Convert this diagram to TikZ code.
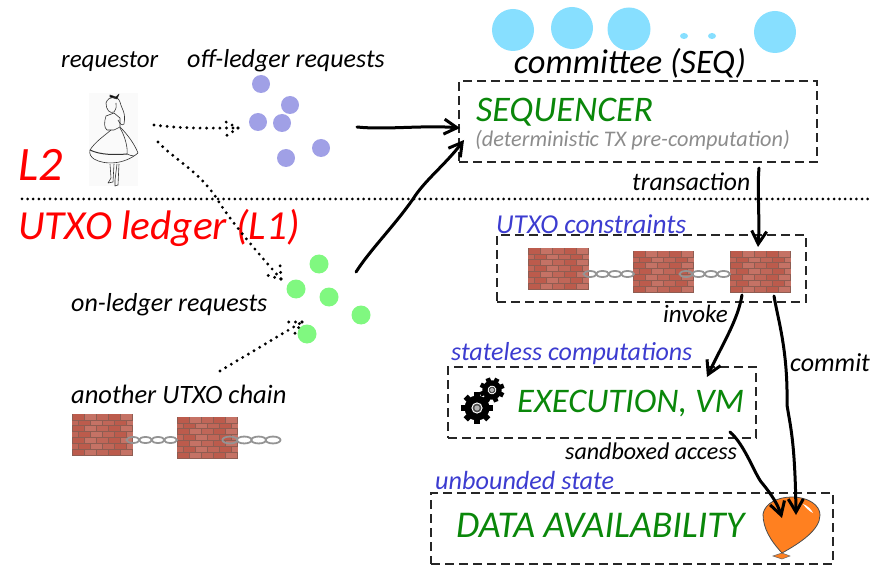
\documentclass[tikz,border=0pt]{standalone}
\usepackage{fontspec}
\setmainfont{Carlito}
\usepackage{tikz}
\usetikzlibrary{arrows.meta,positioning,calc,shapes.geometric}
\usepackage{xcolor}
\definecolor{seqblue}{HTML}{87DFFF}
\definecolor{offdot}{HTML}{A0A0E6}
\definecolor{ondot}{HTML}{80F880}
\definecolor{labgreen}{HTML}{0A870A}
\definecolor{labblue}{HTML}{3C3CD0}
\definecolor{brickred}{HTML}{BC5B4C}
\definecolor{mortar}{HTML}{8F5D52}
\definecolor{balloon}{HTML}{FF8020}
\tikzset{
  txt/.style={inner sep=0pt, font=\itshape\fontsize{26}{26}\selectfont},
  head/.style={inner sep=0pt, text=labgreen, font=\itshape\fontsize{#1}{#1}\selectfont},
  sub/.style={inner sep=0pt, text=labblue, font=\itshape\fontsize{#1}{#1}\selectfont},
  big/.style={inner sep=0pt, text=red, font=\itshape\fontsize{#1}{#1}\selectfont},
  dbox/.style={draw=black!85, line width=2.2pt, dash pattern=on 9pt off 5pt, minimum width=#1},
  dot/.style={circle, inner sep=0pt, minimum size=#1},
  brick/.style={inner sep=0pt, minimum width=61pt, minimum height=41pt, fill=brickred,
    path picture={
      \foreach \r in {0,...,6} {
        \foreach \c in {-1,...,5} {
          \fill[white, opacity={0.07*mod(\r*3+\c*2+6,3)}]
            ([xshift={(\c+0.5*mod(\r,2))*12pt},yshift=\r*5.86pt]path picture bounding box.south west)
            rectangle ++(12pt,5.86pt);
          \draw[mortar, line width=0.6pt]
            ([xshift={(\c+0.5*mod(\r,2))*12pt},yshift=\r*5.86pt]path picture bounding box.south west)
            -- ++(0pt,5.86pt);
        }
        \draw[mortar, line width=0.6pt] ([yshift=\r*5.86pt]path picture bounding box.south west)
          -- ++(61pt,0pt);
      }
    }},
  hand/.style={->, line width=3pt, line cap=round, line join=round},
  dots/.style={line width=3.2pt, line cap=round, dash pattern=on 0pt off 6.6pt},
  chain/.pic={
    \foreach \i in {0,...,3}
      \draw[black!42, line width=1.8pt] (\i*12.5+6,0) ellipse [x radius=6.5, y radius=3];
  },
  gear/.pic={
    \foreach \a in {0,45,...,315}
      \fill[black, rotate=\a] (-3,0) rectangle (3,16);
    \fill[black] (0,0) circle [radius=12.5];
    \fill[white] (0,0) circle [radius=5.6];
    \fill[black!70] (0,0) circle [radius=4.4];
    \fill[black!30] (0,0) circle [radius=2.6];
  },
}
\begin{document}
\begin{tikzpicture}[x=1pt, y=-1pt, >={Straight Barb[length=13pt,width=15pt]}]
  \useasboundingbox (0,0) rectangle (880,577);

  % committee
  \foreach \n/\x/\y/\s in {a/513/30/42, b/572/28/42, c/629/29/43, d/775/32/42}
    \node[dot=\s pt, fill=seqblue] (com\n) at (\x,\y) {};
  \node[ellipse, inner sep=0pt, minimum width=8pt, minimum height=6pt, fill=seqblue] (comx) at (684,36) {};
  \node[ellipse, inner sep=0pt, minimum width=8pt, minimum height=6pt, fill=seqblue] (comy) at (712,36) {};
  \node[txt, font=\itshape\fontsize{34.4}{34.4}\selectfont] (comlab) at (630,63) {committee (SEQ)};

  % boxes
  \node[dbox=358pt, minimum height=81pt] (seq) at (638,121.5) {};
  \node[dbox=309pt, minimum height=67pt] (utxo) at (651.5,268.5) {};
  \node[dbox=308pt, minimum height=71pt] (exec) at (602,402.5) {};
  \node[dbox=402pt, minimum height=71pt] (da) at (632,528.5) {};

  \node[head=36, anchor=west] (seqlab) at (476,112) {SEQUENCER};
  \node[txt, text=black!45, anchor=west, font=\itshape\fontsize{22.3}{22.3}\selectfont] (seqsub) at (475,140) {(deterministic TX pre-computation)};
  \node[head=34.5, anchor=west] (execlab) at (517,404) {EXECUTION, VM};
  \node[head=37.8, anchor=west] (dalab) at (456,525) {DATA AVAILABILITY};

  \node[sub=27.3, anchor=west] (utxolab) at (496,224) {UTXO constraints};
  \node[sub=26, anchor=west] (execsub) at (451,354) {stateless computations};
  \node[sub=26.2, anchor=west] (dasub) at (435,480) {unbounded state};

  % side labels
  \node[big=48, anchor=west] (l2) at (18,165) {L2};
  \node[big=41.3, anchor=west] (l1) at (18,228) {UTXO ledger (L1)};
  \node[txt, anchor=west, font=\itshape\fontsize{25}{25}\selectfont] (req) at (61,62) {requestor};
  \node[txt, anchor=west] (offlab) at (187,61) {off-ledger requests};
  \node[txt, anchor=west] (onlab) at (71,305) {on-ledger requests};
  \node[txt, anchor=west, font=\itshape\fontsize{26.5}{26.5}\selectfont] (chainlab) at (71,394) {another UTXO chain};
  \node[txt, anchor=west, font=\itshape\fontsize{25.6}{25.6}\selectfont] (tx) at (632,182) {transaction};
  \node[txt, anchor=west, font=\itshape\fontsize{25}{25}\selectfont] (inv) at (663,314) {invoke};
  \node[txt, anchor=west, font=\itshape\fontsize{26}{26}\selectfont] (com) at (790,363) {commit};
  \node[txt, anchor=west, font=\itshape\fontsize{24}{24}\selectfont] (sand) at (565,451) {sandboxed access};

  % request dots
  \foreach \n/\x/\y in {a/261/84, b/290/105, c/258/122, d/282/123, e/321/148, f/286/158}
    \node[dot=18pt, fill=offdot] (off\n) at (\x,\y) {};
  \foreach \n/\x/\y in {a/319/264, b/296/289, c/329/297, d/361/315, e/307/334}
    \node[dot=19pt, fill=ondot] (on\n) at (\x,\y) {};

  % requestor
  \node[inner sep=0pt, minimum width=49pt, minimum height=93pt, fill=black!2] (alice) at (113.5,139.5) {};
  \begin{scope}[black!80, line width=0.6pt, line join=round]
    \draw[fill=black] (110,95) -- (116,97) -- (119,94) -- (117,99) -- (110,97) -- cycle;
    \draw (106,103) .. controls (106,110) and (110,114) .. (114,112) .. controls (116,109) and (117,106) .. (116,103);
    \draw (106,103) .. controls (108,96) and (118,95) .. (120,102) .. controls (122,110) and (126,112) .. (124,124)
      .. controls (122,126) and (120,124) .. (118,120);
    \draw (106,116) .. controls (104,122) and (104,128) .. (107,130) -- (114,130) -- (120,127) -- (120,118) -- (114,113) -- cycle;
    \draw (111,130) .. controls (104,136) and (95,142) .. (90,150) .. controls (89,154) and (91,157) .. (94,159)
      .. controls (104,165) and (124,165) .. (138,153) .. controls (134,143) and (127,134) .. (120,127);
    \draw[line width=1pt] (90,150) .. controls (100,155) and (115,155) .. (127,154);
    \draw (120,128) .. controls (125,136) and (128,148) .. (127,154) .. controls (129,156) and (132,155) .. (134,156);
    \draw (110,164) -- (111,178) -- (108,183) -- (113,182) -- (114,164);
    \draw (117,164) -- (115,180) -- (115,186) -- (118,185) -- (119,164);
  \end{scope}

  % brick chains
  \node[brick] (ba) at (102.5,434.5) {};
  \node[brick] (bb) at (207.5,437.5) {};
  \pic (ca) at (127,440) {chain};
  \pic[scale=1.15] (cb) at (223,440) {chain};
  \node[brick] (bc) at (558.5,268.5) {};
  \node[brick] (bd) at (663.5,271.5) {};
  \node[brick] (be) at (760.5,271.5) {};
  \pic (cc) at (584,274) {chain};
  \pic (cd) at (680,274) {chain};

  % gears
  \pic (ga) at (477,408) {gear};
  \pic[scale=0.78, rotate=20] (gb) at (492,390) {gear};

  % balloon
  \draw[black!60, fill=balloon, line width=0.5pt] (773,556) -- (782,553) -- (790,556) -- (782,559) -- cycle;
  \draw[black!70, fill=balloon, line width=0.8pt] (782,553) .. controls (770,540) and (763,528) .. (763,514)
    .. controls (765,503) and (778,497) .. (792,497) .. controls (808,497) and (820,505) .. (820,515)
    .. controls (820,530) and (800,543) .. (782,553);
  \fill[white] (803,504) .. controls (808,506) and (811,509) .. (813,513) .. controls (809,511) and (806,508) .. (803,504);

  % anchors for the connectors
  \coordinate (aliceA) at (154,125);
  \coordinate (aliceB) at (158,142);
  \coordinate (offin) at (238,128);
  \coordinate (onin) at (281,279);
  \coordinate (onin2) at (302,322);
  \coordinate (chainout) at (220,371);
  \coordinate (offout) at (357,127);
  \coordinate (onout) at (356,272);
  \coordinate (seqinA) at (460,128);
  \coordinate (seqinB) at (464,140);
  \coordinate (seqout) at (759,168);
  \coordinate (bein) at (758,247);
  \coordinate (beoutA) at (742,295);
  \coordinate (beoutB) at (774,296);
  \coordinate (execin) at (707,377);
  \coordinate (execout) at (730,432);
  \coordinate (balA) at (782,518);
  \coordinate (balB) at (796,515);
  \coordinate (divl) at (22,199);
  \coordinate (divr) at (870,199);

  % L1/L2 border
  \draw[line width=3pt, line cap=round, dash pattern=on 0pt off 5.6pt] (divl) -- (divr);

  % dotted arrows
  \draw[dots] (aliceA) .. controls (185,129) and (210,128) .. (offin);
  \draw[dots] (offin) -- ++(-16,-8);
  \draw[dots] (offin) -- ++(-12,8);
  \draw[dots] (aliceB) .. controls (175,160) and (200,172) .. (217,199) .. controls (230,220) and (255,250) .. (onin);
  \draw[dots] (onin) -- ++(-1,-15);
  \draw[dots] (onin) -- ++(-15,-4);
  \draw[dots] (chainout) -- (onin2);
  \draw[dots] (onin2) -- ++(-19,0);
  \draw[dots] (onin2) -- ++(-8,13);

  % solid arrows
  \draw[hand] (offout) .. controls (385,130) and (425,125) .. (seqinA);
  \draw[hand] (onout) .. controls (370,250) and (395,225) .. (413,199) .. controls (425,180) and (445,165) .. (seqinB);
  \draw[hand] (seqout) .. controls (757,190) and (760,220) .. (bein);
  \draw[hand] (beoutA) .. controls (738,320) and (722,345) .. (execin);
  \draw[hand] (beoutB) .. controls (778,320) and (788,350) .. (787,405) .. controls (790,425) and (795,440) .. (balB);
  \draw[hand] (execout) .. controls (745,445) and (755,475) .. (762,483) .. controls (772,495) and (778,505) .. (balA);
\end{tikzpicture}
\end{document}
